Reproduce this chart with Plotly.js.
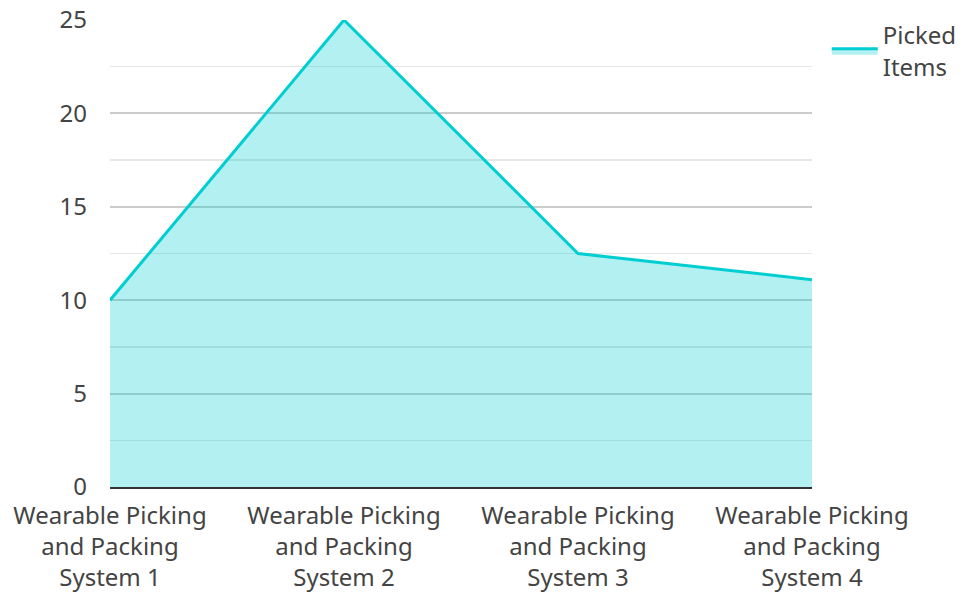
<!DOCTYPE html>
<html>
<head>
<meta charset="utf-8">
<script src="https://cdn.plot.ly/plotly-3.0.1.min.js"></script>
<style>html,body{margin:0;padding:0;background:#fff;}#chart{width:974px;height:592px;}</style>
</head>
<body>
<div id="chart"></div>
<script>
const categories = [
  "Wearable Picking<br>and Packing<br>System 1",
  "Wearable Picking<br>and Packing<br>System 2",
  "Wearable Picking<br>and Packing<br>System 3",
  "Wearable Picking<br>and Packing<br>System 4"
];
const pickedItems = [10, 25, 12.5, 11.1];
const seriesName = "Picked<br>Items";

const trace = {
  type: "scatter",
  mode: "lines",
  x: categories,
  y: pickedItems,
  name: seriesName,
  fill: "tozeroy",
  fillcolor: "rgba(0,206,209,0.3)",
  line: {color: "#00CED1", width: 3},
  showlegend: true
};

const layout = {
  width: 974,
  height: 592,
  margin: {l: 110, r: 162, t: 20, b: 105},
  paper_bgcolor: "#fff",
  plot_bgcolor: "#fff",
  font: {family: "Noto Sans", size: 24, color: "#444"},
  showlegend: true,
  legend: {x: 1.021, xanchor: "left", y: 1.015, yanchor: "top", itemwidth: 46, font: {size: 24, color: "#444"}},
  xaxis: {
    type: "category",
    range: [0, 3],
    automargin: false,
    showgrid: false,
    showline: true,
    linecolor: "#333",
    linewidth: 2,
    ticks: "",
    ticklabelstandoff: 6,
    tickfont: {size: 24, color: "#444"},
    tickangle: 0,
    fixedrange: true
  },
  yaxis: {
    range: [0, 25],
    dtick: 5,
    tick0: 0,
    automargin: false,
    showgrid: true,
    gridcolor: "#cccccc",
    gridwidth: 2,
    zeroline: false,
    showline: false,
    ticks: "",
    ticklabelstandoff: 22,
    tickfont: {size: 24, color: "#444"},
    minor: {dtick: 2.5, showgrid: true, gridcolor: "#e6e6e6", gridwidth: 1.5},
    fixedrange: true
  }
};

Plotly.newPlot("chart", [trace], layout, {displayModeBar: false, staticPlot: true});
</script>
</body>
</html>
